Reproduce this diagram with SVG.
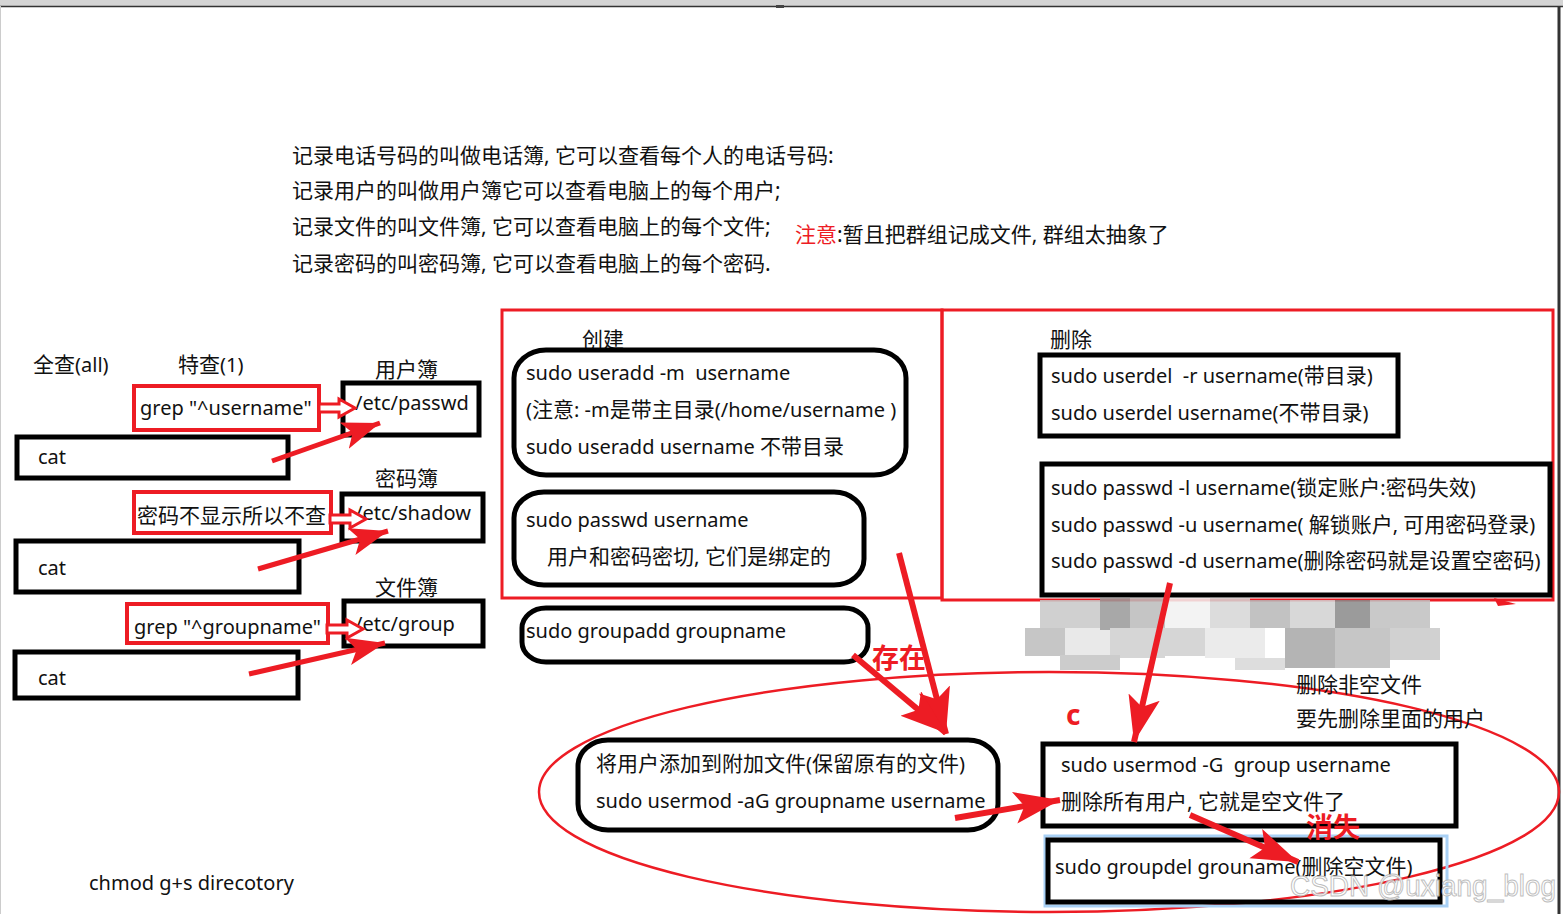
<svg xmlns="http://www.w3.org/2000/svg" width="1563" height="914" viewBox="0 0 1563 914">
<style>
text{font-family:"Noto Sans","Noto Sans CJK SC",sans-serif;font-size:20px;fill:#111;white-space:pre}
.c{font-size:21px}
.red{fill:#ed1c24}
.bold{font-weight:bold}
.rb{fill:none;stroke:#ed1c24;stroke-width:4}
.rf{fill:none;stroke:#ed1c24;stroke-width:3}
.bk{fill:#fff;stroke:#000;stroke-width:5}
.arr{stroke:#ed1c24;stroke-width:5;fill:none;marker-end:url(#ah)}
.arr2{stroke:#ed1c24;stroke-width:6;fill:none;marker-end:url(#ah2)}
.hollow{fill:#fff;stroke:#ed1c24;stroke-width:3}
</style>
<defs>
<marker id="ah" markerUnits="userSpaceOnUse" markerWidth="44" markerHeight="30" refX="38" refY="14" orient="auto"><path d="M0,0 L38,14 L0,28 L9,14 z" fill="#ed1c24"/></marker>
<marker id="ah2" markerUnits="userSpaceOnUse" markerWidth="52" markerHeight="34" refX="46" refY="16" orient="auto"><path d="M0,0 L46,16 L0,32 L10,16 z" fill="#ed1c24"/></marker>
<path id="dbl" d="M0,-4 L20,-4 L20,-9 L36,0 L20,9 L20,4 L0,4 z"/>
</defs>
<rect x="0" y="0" width="1563" height="914" fill="#fff"/>
<g id="frame">
<rect x="0" y="0" width="1563" height="6" fill="#d4d4d4"/>
<line x1="0" y1="6.5" x2="1563" y2="6.5" stroke="#333" stroke-width="1.5"/>
<line x1="1559" y1="6" x2="1559" y2="914" stroke="#333" stroke-width="3"/>
<line x1="0.5" y1="6" x2="0.5" y2="914" stroke="#ccc" stroke-width="1"/>
<rect x="776" y="5" width="8" height="3" fill="#444"/>
</g>

<g id="intro" class="c">
<text class="c" x="292" y="163">记录电话号码的叫做电话簿, 它可以查看每个人的电话号码:</text>
<text class="c" x="292" y="198">记录用户的叫做用户簿它可以查看电脑上的每个用户;</text>
<text class="c" x="292" y="234">记录文件的叫文件簿, 它可以查看电脑上的每个文件;</text>
<text class="c" x="292" y="271">记录密码的叫密码簿, 它可以查看电脑上的每个密码.</text>
<text class="c" x="795" y="242"><tspan class="red">注意</tspan>:暂且把群组记成文件, 群组太抽象了</text>
</g>

<g id="left-headers">
<text x="33" y="372"><tspan class="c">全查</tspan>(all)</text>
<text x="178" y="372"><tspan class="c">特查</tspan>(1)</text>
<text class="c" x="375" y="377">用户簿</text>
<text class="c" x="375" y="486">密码簿</text>
<text class="c" x="375" y="595">文件簿</text>
</g>

<g id="grep-user"><rect class="rb" x="134" y="386" width="185" height="44"/><text x="140" y="415">grep "^username"</text></g>
<g id="passwd"><rect class="bk" x="343" y="383" width="136" height="52"/><text x="355" y="410">/etc/passwd</text></g>
<g id="cat1"><rect class="bk" x="17" y="437" width="271" height="41"/><text x="38" y="464">cat</text></g>

<g id="grep-shadow"><rect class="rb" x="134" y="492" width="197" height="41"/><text class="c" x="137" y="523">密码不显示所以不查</text></g>
<g id="shadow"><rect class="bk" x="342" y="494" width="141" height="47"/><text x="355" y="520">/etc/shadow</text></g>
<g id="cat2"><rect class="bk" x="16" y="541" width="283" height="51"/><text x="38" y="575">cat</text></g>

<g id="grep-group"><rect class="rb" x="127" y="604" width="201" height="39"/><text x="134" y="634">grep "^groupname"</text></g>
<g id="group"><rect class="bk" x="344" y="601" width="139" height="45"/><text x="355" y="631">/etc/group</text></g>
<g id="cat3"><rect class="bk" x="15" y="652" width="283" height="46"/><text x="38" y="685">cat</text></g>

<g id="chmod"><text x="89" y="890">chmod g+s direcotory</text></g>

<g id="create-frame">
<rect class="rf" x="502" y="310" width="440" height="288"/>
<text class="c" x="582" y="347">创建</text>
</g>
<g id="delete-frame">
<rect class="rf" x="942" y="310" width="611" height="290"/>
<text class="c" x="1050" y="347">删除</text>
</g>

<g id="useradd"><rect class="bk" x="514" y="350" width="392" height="125" rx="32" ry="28"/>
<text x="526" y="380">sudo useradd -m  username</text>
<text x="526" y="417">(<tspan class="c">注意</tspan>: -m<tspan class="c">是带主目录</tspan>(/home/username )</text>
<text x="526" y="454">sudo useradd username <tspan class="c">不带目录</tspan></text></g>

<g id="passwd-cmd"><rect class="bk" x="514" y="492" width="350" height="93" rx="30" ry="26"/>
<text x="526" y="527">sudo passwd username</text>
<text class="c" x="547" y="564">用户和密码密切, 它们是绑定的</text></g>

<g id="groupadd"><rect class="bk" x="522" y="608" width="346" height="54" rx="24" ry="20"/>
<text x="526" y="638">sudo groupadd groupname</text></g>

<g id="userdel"><rect class="bk" x="1040" y="355" width="358" height="81"/>
<text x="1051" y="383">sudo userdel  -r username(<tspan class="c">带目录</tspan>)</text>
<text x="1051" y="420">sudo userdel username(<tspan class="c">不带目录</tspan>)</text></g>

<g id="passwd-opts"><rect class="bk" x="1042" y="464" width="508" height="131"/>
<text x="1051" y="495">sudo passwd -l username(<tspan class="c">锁定账户</tspan>:<tspan class="c">密码失效</tspan>)</text>
<text x="1051" y="532">sudo passwd -u username( <tspan class="c">解锁账户</tspan>, <tspan class="c">可用密码登录</tspan>)</text>
<text x="1051" y="568">sudo passwd -d username(<tspan class="c">删除密码就是设置空密码</tspan>)</text></g>

<g id="mosaic" opacity="0.85">
<rect x="1040" y="600" width="60" height="30" fill="#c8c8c8"/>
<rect x="1025" y="628" width="40" height="28" fill="#bdbdbd"/>
<rect x="1065" y="628" width="45" height="28" fill="#e6e6e6"/>
<rect x="1100" y="598" width="30" height="32" fill="#9a9a9a"/>
<rect x="1130" y="598" width="35" height="32" fill="#bcbcbc"/>
<rect x="1110" y="628" width="55" height="30" fill="#d0d0d0"/>
<rect x="1060" y="655" width="60" height="15" fill="#c4c4c4"/>
<rect x="1165" y="598" width="45" height="30" fill="#f2f2f2"/>
<rect x="1210" y="598" width="40" height="30" fill="#d6d6d6"/>
<rect x="1165" y="628" width="40" height="28" fill="#cfcfcf"/>
<rect x="1205" y="628" width="60" height="30" fill="#e8e8e8"/>
<rect x="1250" y="600" width="40" height="28" fill="#b8b8b8"/>
<rect x="1290" y="600" width="45" height="28" fill="#d2d2d2"/>
<rect x="1285" y="628" width="50" height="40" fill="#a8a8a8"/>
<rect x="1335" y="600" width="35" height="28" fill="#8a8a8a"/>
<rect x="1370" y="600" width="60" height="28" fill="#c0c0c0"/>
<rect x="1335" y="628" width="55" height="40" fill="#bdbdbd"/>
<rect x="1390" y="628" width="50" height="32" fill="#cacaca"/>
<rect x="1235" y="658" width="50" height="12" fill="#d8d8d8"/>
</g>

<g id="big-ellipse"><ellipse cx="1049" cy="792" rx="510" ry="120" fill="none" stroke="#ed1c24" stroke-width="2.5"/></g>

<g id="usermod-aG"><rect class="bk" x="578" y="740" width="420" height="90" rx="30" ry="26"/>
<text x="596" y="771"><tspan class="c">将用户添加到附加文件</tspan>(<tspan class="c">保留原有的文件</tspan>)</text>
<text x="596" y="808">sudo usermod -aG groupname username</text></g>

<g id="usermod-G"><rect class="bk" x="1043" y="744" width="413" height="82"/>
<text x="1061" y="772">sudo usermod -G  group username</text>
<text class="c" x="1061" y="809">删除所有用户, 它就是空文件了</text></g>

<g id="groupdel">
<rect x="1045" y="836" width="402" height="70" fill="none" stroke="#a8d0f5" stroke-width="3"/>
<rect x="1048" y="840" width="392" height="62" fill="none" stroke="#000" stroke-width="5"/>
<text x="1055" y="874">sudo groupdel grouname(<tspan class="c">删除空文件</tspan>)</text></g>

<g id="labels">
<text class="c" x="1296" y="692">删除非空文件</text>
<text class="c" x="1296" y="726">要先删除里面的用户</text>
<text class="red bold" x="1066" y="725" style="font-size:28px">c</text>
<text class="red bold" x="872" y="668" style="font-size:27px">存在</text>
<text class="red bold" x="1306" y="837" style="font-size:27px">消失</text>
</g>

<g id="connectors">
<use href="#dbl" class="hollow" transform="translate(319,408)"/>
<use href="#dbl" class="hollow" transform="translate(330,519)"/>
<use href="#dbl" class="hollow" transform="translate(327,629)"/>
<line class="arr" x1="272" y1="461" x2="380" y2="423"/>
<line class="arr" x1="258" y1="569" x2="388" y2="531"/>
<line class="arr" x1="249" y1="674" x2="385" y2="643"/>
<line class="arr2" x1="899" y1="553" x2="946" y2="734"/>
<line class="arr2" x1="853" y1="655" x2="946" y2="733"/>
<line class="arr2" x1="1170" y1="583" x2="1134" y2="742"/>
<line class="arr2" x1="955" y1="818" x2="1060" y2="800"/>
<line class="arr2" x1="1190" y1="815" x2="1298" y2="862"/>
<path d="M1494,598 L1516,604 L1498,606 z" fill="#ed1c24"/>
</g>

<g id="watermark"><text x="1290" y="896" textLength="266" lengthAdjust="spacingAndGlyphs" style="font-size:30px;fill:#fff;stroke:#b8b8b8;stroke-width:1;font-family:'Liberation Sans',sans-serif" opacity="0.9">CSDN @uxiang_blog</text></g>
</svg>
